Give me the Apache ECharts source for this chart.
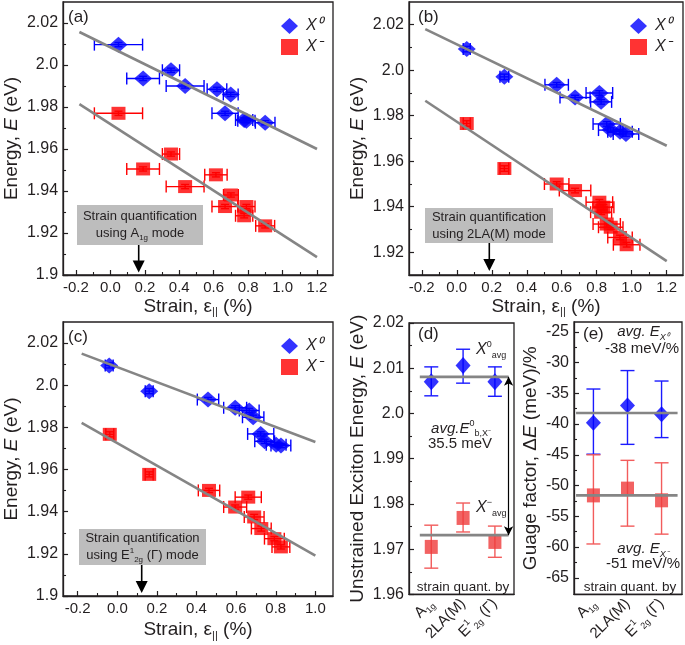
<!DOCTYPE html>
<html><head><meta charset="utf-8">
<script src="https://cdn.jsdelivr.net/npm/echarts@6/dist/echarts.min.js"></script>
<style>html,body{margin:0;padding:0;background:#fff}#c{width:685px;height:645px}</style>
</head><body><div id="c"></div>
<script>
// ---------------- DATA ----------------
// tick values
const strainTicksAB = [-0.2, 0, 0.2, 0.4, 0.6, 0.8, 1.0, 1.2];
const strainMinorAB = [-0.1, 0.1, 0.3, 0.5, 0.7, 0.9, 1.1];
const strainTicksC = [-0.2, 0, 0.2, 0.4, 0.6, 0.8, 1.0];
const strainMinorC = [-0.1, 0.1, 0.3, 0.5, 0.7, 0.9];
const energyTicksAC = [1.9, 1.92, 1.94, 1.96, 1.98, 2.0, 2.02];
const energyMinorAC = [1.91, 1.93, 1.95, 1.97, 1.99, 2.01];
const energyTicksB = [1.92, 1.94, 1.96, 1.98, 2.0, 2.02];
const energyMinorB = [1.93, 1.95, 1.97, 1.99, 2.01];
const unstrainedTicks = [1.96, 1.97, 1.98, 1.99, 2.0, 2.01, 2.02];
const unstrainedMinor = [1.965, 1.975, 1.985, 1.995, 2.005, 2.015];
const gaugeTicks = [-65, -60, -55, -50, -45, -40, -35, -30, -25];
const gaugeMinor = [-62.5, -57.5, -52.5, -47.5, -42.5, -37.5, -32.5, -27.5];
const methodPos = [1, 2, 3];
const methodLabels = ['A{sub|1g}', '2LA(M)', 'E{sup|1}{sub|2g} (Γ)'];

// panel (a): [strain %, energy eV, strain err, energy err]
const aX0 = [[0.047,2.0097,0.14,0.001],[0.19,1.9936,0.095,0.001],[0.352,1.9975,0.05,0.001],[0.434,1.990,0.11,0.001],
  [0.619,1.9884,0.057,0.001],[0.699,1.986,0.043,0.001],[0.666,1.977,0.076,0.001],[0.777,1.9738,0.05,0.001],
  [0.79,1.9735,0.05,0.001],[0.899,1.9725,0.057,0.001]];
const aXm = [[0.047,1.977,0.14,0.001],[0.352,1.9576,0.05,0.001],[0.19,1.9505,0.095,0.001],[0.613,1.9477,0.065,0.001],
  [0.434,1.9421,0.11,0.001],[0.70,1.9381,0.043,0.001],[0.666,1.9326,0.076,0.001],[0.79,1.9326,0.05,0.001],
  [0.777,1.9282,0.05,0.001],[0.899,1.9234,0.055,0.001]];
const aFitX0 = [[-0.18,2.0157],[1.2,1.960]];
const aFitXm = [[-0.18,1.9814],[1.2,1.9085]];

// panel (b)
const bX0 = [[0.057,2.0093,0.02,0.0012],[0.272,1.9971,0.025,0.0012],[0.571,1.9936,0.067,0.001],[0.676,1.988,0.086,0.001],
  [0.815,1.990,0.076,0.001],[0.825,1.9861,0.06,0.001],[0.857,1.9764,0.078,0.001],[0.88,1.9737,0.07,0.001],
  [0.933,1.973,0.07,0.001],[0.967,1.972,0.073,0.001]];
const bXm = [[0.057,1.9766,0.02,0.0012],[0.272,1.9568,0.025,0.0012],[0.571,1.950,0.07,0.001],[0.676,1.9471,0.09,0.001],
  [0.815,1.942,0.076,0.0012],[0.838,1.9398,0.06,0.0012],[0.825,1.9376,0.06,0.001],[0.857,1.9324,0.078,0.0015],
  [0.88,1.931,0.07,0.001],[0.933,1.9265,0.07,0.001],[0.971,1.9233,0.076,0.001]];
const bFitX0 = [[-0.18,2.0181],[1.2,1.9668]];
const bFitXm = [[-0.18,1.9866],[1.2,1.9161]];

// panel (c)
const cX0 = [[-0.041,2.0094,0.02,0.0012],[0.161,1.9972,0.02,0.0012],[0.458,1.9932,0.054,0.001],[0.595,1.9893,0.058,0.001],
  [0.666,1.988,0.05,0.001],[0.686,1.9848,0.054,0.001],[0.724,1.9769,0.066,0.001],[0.744,1.9734,0.05,0.001],
  [0.802,1.9718,0.05,0.001],[0.826,1.9714,0.05,0.001]];
const cXm = [[-0.038,1.9767,0.02,0.0012],[0.161,1.9577,0.02,0.0012],[0.463,1.9501,0.054,0.001],[0.661,1.9469,0.066,0.001],
  [0.595,1.9422,0.058,0.001],[0.691,1.9375,0.05,0.0012],[0.727,1.932,0.05,0.0012],[0.793,1.9272,0.05,0.001],
  [0.826,1.9233,0.045,0.001]];
const cFitX0 = [[-0.18,2.015],[1.0,1.9731]];
const cFitXm = [[-0.18,1.9821],[1.0,1.9191]];

// panel (d): unstrained exciton energies
const dX0 = [2.007, 2.0106, 2.007];
const dX0Lo = [2.0039, 2.0067, 2.0038];
const dX0Hi = [2.0103, 2.0142, 2.0103];
const dXm = [1.9705, 1.9769, 1.9716];
const dXmLo = [1.9658, 1.9738, 1.9682];
const dXmHi = [1.9753, 1.9802, 1.9751];
const dAvg = [2.0081, 1.9731];
const dAvgSpan = [0.64, 3.43];

// panel (e): gauge factors
const eX0 = [-39.8, -37.0, -38.4];
const eX0Lo = [-44.9, -43.3, -42.2];
const eX0Hi = [-34.3, -31.3, -33.0];
const eXm = [-51.6, -50.5, -52.4];
const eXmLo = [-59.5, -56.6, -57.9];
const eXmHi = [-45.0, -45.9, -46.3];
const eAvg = [-38.2, -51.6];
const eAvgSpan = [0.49, 3.47];

// ---------------- STYLE ----------------
const FONT = "'Liberation Sans', Arial, Helvetica, sans-serif";
const INK = '#231f20';
const BLUE = '#0000ff', RED = '#ff0000';
const GRAY = '#858585';

function fmtE(v) { const s = v.toFixed(2); return s.endsWith('0') ? v.toFixed(1) : s; }

function mainAxis(gi, pos, min, max, ticks, fmt, name, nameGap, fs, extraLabel) {
  return {
    type: 'value', gridIndex: gi, position: pos, min: min, max: max,
    axisLine: {show: true, onZero: false, lineStyle: {color: INK, width: 1.3}},
    axisTick: {show: true, inside: true, length: 5, customValues: ticks, lineStyle: {color: INK, width: 1.2}},
    axisLabel: Object.assign({show: true, customValues: ticks, formatter: fmt, color: INK, fontFamily: FONT,
      fontSize: fs, margin: 5}, extraLabel || {}),
    splitLine: {show: false},
    name: name, nameLocation: 'middle', nameGap: nameGap,
    nameTextStyle: {fontSize: 19, fontFamily: FONT, color: INK, lineHeight: 22,
      rich: {i: {fontStyle: 'italic', fontSize: 19, fontFamily: FONT, color: INK, lineHeight: 22},
             s: {fontSize: 11, fontFamily: FONT, color: INK, lineHeight: 22, verticalAlign: 'bottom'}}}
  };
}
function minorAxis(gi, pos, min, max, ticks) {
  return {
    type: 'value', gridIndex: gi, position: pos, min: min, max: max,
    axisLine: {show: false, onZero: false}, axisLabel: {show: false}, splitLine: {show: false},
    axisTick: {show: true, inside: true, length: 3, customValues: ticks, lineStyle: {color: INK, width: 1.1}}
  };
}
const strainName = 'Strain, ε{s|||} (%)';
const catLabel = {rotate: 45, fontSize: 15, margin: 7, lineHeight: 19,
  rich: {sub: {fontSize: 9, lineHeight: 19, verticalAlign: 'bottom', fontFamily: FONT, color: INK},
         sup: {fontSize: 9, lineHeight: 19, verticalAlign: 'top', fontFamily: FONT, color: INK}}};
function catFmt(v) { const i = methodPos.indexOf(Math.round(v)); return i >= 0 ? methodLabels[i] : ''; }

const xAxis = [
  mainAxis(0, 'bottom', -0.275, 1.293, strainTicksAB, v => v.toFixed(1), strainName, 19, 15),
  mainAxis(1, 'bottom', -0.273, 1.293, strainTicksAB, v => v.toFixed(1), strainName, 19, 15),
  mainAxis(2, 'bottom', -0.274, 1.089, strainTicksC, v => v.toFixed(1), strainName, 23, 15),
  mainAxis(3, 'bottom', 0.3, 3.6, methodPos, catFmt, '', 0, 15, catLabel),
  mainAxis(4, 'bottom', 0.43, 3.6, methodPos, catFmt, '', 0, 15, catLabel),
  minorAxis(0, 'bottom', -0.275, 1.293, strainMinorAB),
  minorAxis(1, 'bottom', -0.273, 1.293, strainMinorAB),
  minorAxis(2, 'bottom', -0.274, 1.089, strainMinorC)
];
xAxis[3].axisTick.show = false; xAxis[4].axisTick.show = false;
const yAxis = [
  mainAxis(0, 'left', 1.9, 2.03, energyTicksAC, fmtE, 'Energy, {i|E} (eV)', 40, 16),
  mainAxis(1, 'left', 1.91, 2.03, energyTicksB, fmtE, 'Energy, {i|E} (eV)', 40, 16),
  mainAxis(2, 'left', 1.9, 2.03, energyTicksAC, fmtE, 'Energy, {i|E} (eV)', 40, 16),
  mainAxis(3, 'left', 1.96, 2.02, unstrainedTicks, fmtE, 'Unstrained Exciton Energy, {i|E} (eV)', 40, 16),
  mainAxis(4, 'left', -67.7, -23.4, gaugeTicks, v => String(v), 'Guage factor, Δ{i|E} (meV)/%', 31, 16),
  minorAxis(0, 'left', 1.9, 2.03, energyMinorAC),
  minorAxis(1, 'left', 1.91, 2.03, energyMinorB),
  minorAxis(2, 'left', 1.9, 2.03, energyMinorAC),
  minorAxis(3, 'left', 1.96, 2.02, unstrainedMinor),
  minorAxis(4, 'left', -67.7, -23.4, gaugeMinor)
];

const grid = [
  {left: 58, top: 2, width: 275, height: 273},
  {left: 409, top: 2, width: 274, height: 273},
  {left: 58, top: 322, width: 275, height: 274},
  {left: 409, top: 323, width: 105, height: 273},
  {left: 574, top: 322, width: 108, height: 275}
].map(g => Object.assign(g, {show: true, borderColor: INK, borderWidth: 1.3, backgroundColor: 'transparent'}));

// --------------- error bar renderers ---------------
function xyErr(color, capH, capW) {
  return function (params, api) {
    const x = api.value(0), y = api.value(1), xe = api.value(2), ye = api.value(3);
    const l = api.coord([x - xe, y]), r = api.coord([x + xe, y]);
    const t = api.coord([x, y + ye]), b = api.coord([x, y - ye]);
    const st = {stroke: color, lineWidth: 1.4};
    const L = (x1, y1, x2, y2) => ({type: 'line', shape: {x1, y1, x2, y2}, style: st});
    return {type: 'group', children: [
      L(l[0], l[1], r[0], r[1]), L(l[0], l[1] - capH, l[0], l[1] + capH), L(r[0], r[1] - capH, r[0], r[1] + capH),
      L(t[0], t[1], b[0], b[1]), L(t[0] - capW, t[1], t[0] + capW, t[1]), L(b[0] - capW, b[1], b[0] + capW, b[1])
    ]};
  };
}
function vErr(color, capW) {
  return function (params, api) {
    const x = api.value(0), lo = api.value(1), hi = api.value(2);
    const t = api.coord([x, hi]), b = api.coord([x, lo]);
    const st = {stroke: color, lineWidth: 1.4};
    const L = (x1, y1, x2, y2) => ({type: 'line', shape: {x1, y1, x2, y2}, style: st});
    return {type: 'group', children: [
      L(t[0], t[1], b[0], b[1]), L(t[0] - capW, t[1], t[0] + capW, t[1]), L(b[0] - capW, b[1], b[0] + capW, b[1])
    ]};
  };
}

const series = [];
function strainPanel(gi, tag, x0, xm, fit0, fitm) {
  series.push({type: 'custom', xAxisIndex: gi, yAxisIndex: gi, renderItem: xyErr(BLUE, 6, 4), data: x0, z: 2, silent: true, encode: {x: 0, y: 1}});
  series.push({type: 'custom', xAxisIndex: gi, yAxisIndex: gi, renderItem: xyErr(RED, 6, 4), data: xm, z: 2, silent: true, encode: {x: 0, y: 1}});
  series.push({type: 'scatter', name: 'X⁰ ' + tag, xAxisIndex: gi, yAxisIndex: gi, data: x0.map(p => [p[0], p[1]]),
    symbol: 'diamond', symbolSize: [18, 16], itemStyle: {color: BLUE}, z: 3});
  series.push({type: 'scatter', name: 'X⁻ ' + tag, xAxisIndex: gi, yAxisIndex: gi, data: xm.map(p => [p[0], p[1]]),
    symbol: 'rect', symbolSize: [14, 13], itemStyle: {color: RED}, z: 3});
  [fit0, fitm].forEach(f => series.push({type: 'line', xAxisIndex: gi, yAxisIndex: gi, data: f, symbol: 'none',
    lineStyle: {color: GRAY, width: 2.6}, z: 4, silent: true}));
}
strainPanel(0, '(a)', aX0, aXm, aFitX0, aFitXm);
strainPanel(1, '(b)', bX0, bXm, bFitX0, bFitXm);
strainPanel(2, '(c)', cX0, cXm, cFitX0, cFitXm);

function avgPanel(gi, v0, lo0, hi0, vm, lom, him, avg, span, dsz, rsz, withArrow) {
  series.push({type: 'custom', xAxisIndex: gi, yAxisIndex: gi, renderItem: vErr('#1a1aff', 7), z: 2, silent: true,
    data: methodPos.map((p, i) => [p, lo0[i], hi0[i]]), encode: {x: 0, y: [1, 2]}});
  series.push({type: 'custom', xAxisIndex: gi, yAxisIndex: gi, renderItem: vErr('#f25c5c', 7), z: 2, silent: true,
    data: methodPos.map((p, i) => [p, lom[i], him[i]]), encode: {x: 0, y: [1, 2]}});
  series.push({type: 'scatter', xAxisIndex: gi, yAxisIndex: gi, data: methodPos.map((p, i) => [p, v0[i]]),
    symbol: 'diamond', symbolSize: dsz, itemStyle: {color: BLUE}, z: 3});
  series.push({type: 'scatter', xAxisIndex: gi, yAxisIndex: gi, data: methodPos.map((p, i) => [p, vm[i]]),
    symbol: 'rect', symbolSize: rsz, itemStyle: {color: '#ef3b3b'}, z: 3});
  avg.forEach((a, k) => {
    const s = {type: 'line', xAxisIndex: gi, yAxisIndex: gi, data: span.map(x => [x, a]), symbol: 'none',
      lineStyle: {color: GRAY, width: 2.6}, z: 4, silent: true};
    if (withArrow && k === 0) {
      s.markLine = {silent: true, symbol: ['arrow', 'arrow'], symbolSize: [7, 9], animation: false,
        lineStyle: {color: '#000', width: 1.2, type: 'solid'}, label: {show: false},
        data: [[{coord: [span[1], avg[0]]}, {coord: [span[1], avg[1]]}]]};
    }
    series.push(s);
  });
}
avgPanel(3, dX0, dX0Lo, dX0Hi, dXm, dXmLo, dXmHi, dAvg, dAvgSpan, [15, 17], [13, 14], true);
avgPanel(4, eX0, eX0Lo, eX0Hi, eXm, eXmLo, eXmHi, eAvg, eAvgSpan, [15, 16], [13, 14], false);

function legendAt(left, top, tag) {
  return {left: left, top: top, orient: 'vertical', itemWidth: 17, itemHeight: 16, itemGap: 5, selectedMode: false,
    data: [{name: 'X⁰ ' + tag, icon: 'diamond'}, {name: 'X⁻ ' + tag, icon: 'rect'}],
    formatter: n => n.split(' ')[0],
    textStyle: {fontStyle: 'italic', fontSize: 16, color: INK, fontFamily: FONT, padding: [0, 0, 0, 3]}};
}
const legend = [legendAt(276, 13, '(a)'), legendAt(625, 13, '(b)'), legendAt(276, 333, '(c)')];

// --------------- annotations ---------------
const G = [];
function txt(x, y, text, opts) {
  G.push({type: 'text', x: x, y: y, z: 10, silent: true, style: Object.assign({text: text, fill: INK, fontFamily: FONT,
    fontSize: 16, align: 'left', verticalAlign: 'middle'}, opts || {})});
}
const richT = (fs) => ({
  i: {fontStyle: 'italic', fontSize: fs, fontFamily: FONT, fill: INK, lineHeight: fs + 4, verticalAlign: 'middle'},
  sub: {fontSize: Math.round(fs * 0.58), fontFamily: FONT, fill: INK, lineHeight: fs + 4, verticalAlign: 'bottom'},
  subi: {fontSize: Math.round(fs * 0.62), fontStyle: 'italic', fontFamily: FONT, fill: INK, lineHeight: fs + 4, verticalAlign: 'bottom'},
  sup: {fontSize: Math.round(fs * 0.58), fontFamily: FONT, fill: INK, lineHeight: fs + 4, verticalAlign: 'top'},
  n: {fontSize: fs, fontFamily: FONT, fill: INK, lineHeight: fs + 4, verticalAlign: 'middle'}
});
function quantBox(x, y, w, h, line2, ax) {
  G.push({type: 'rect', z: 9, silent: true, shape: {x: x, y: y, width: w, height: h}, style: {fill: '#bdbdbd'}});
  G.push({type: 'text', z: 10, silent: true, x: x + w / 2, y: y + h / 2,
    style: {text: '{n|Strain quantification}\n{n|' + line2 + '}', align: 'center', verticalAlign: 'middle',
      fontFamily: FONT, fontSize: 13, fill: INK, lineHeight: 16, rich: richT(13)}});
  const top = y + h, tip = ax.tip;
  G.push({type: 'line', z: 10, silent: true, shape: {x1: ax.x, y1: top, x2: ax.x, y2: tip - 10}, style: {stroke: '#000', lineWidth: 1.6}});
  G.push({type: 'polygon', z: 10, silent: true, shape: {points: [[ax.x - 6, tip - 12], [ax.x + 6, tip - 12], [ax.x, tip]]}, style: {fill: '#000'}});
}
quantBox(77, 205, 126, 40, 'using A}{sub|1g}{n| mode', {x: 138.7, tip: 272.5});
quantBox(425, 208, 128, 35, 'using 2LA(M) mode', {x: 489.3, tip: 271});
quantBox(79, 529, 127, 36, 'using E}{sup|1}{sub|2g}{n| (Γ) mode', {x: 141.7, tip: 593});

txt(68, 17, '(a)', {fontSize: 17});
txt(418, 17, '(b)', {fontSize: 17});
txt(68, 337, '(c)', {fontSize: 17});
txt(418, 334, '(d)', {fontSize: 17});
txt(583, 334, '(e)', {fontSize: 17});

txt(476, 350, '{i|X}{sup|0}{sub|avg}', {rich: richT(16)});
txt(476, 508, '{i|X}{sup|−}{sub|avg}', {rich: richT(16)});
txt(461, 429, '{i|avg.E}{sup|0}{sub|b,X⁻}', {align: 'center', rich: richT(15)});
txt(460, 444, '35.5 meV', {align: 'center', fontSize: 15});
txt(463, 587, 'strain quant. by', {align: 'center', fontSize: 13.5});

txt(643, 332, '{i|avg. E}{subi|X⁰}', {align: 'center', rich: richT(15)});
txt(642, 349, '-38 meV/%', {align: 'center', fontSize: 15});
txt(643, 549, '{i|avg. E}{subi|X⁻}', {align: 'center', rich: richT(15)});
txt(643, 564, '-51 meV/%', {align: 'center', fontSize: 15});
txt(630, 587, 'strain quant. by', {align: 'center', fontSize: 13.5});

const chart = echarts.init(document.getElementById('c'), null, {renderer: 'canvas', width: 685, height: 645});
chart.setOption({
  animation: false,
  backgroundColor: '#ffffff',
  textStyle: {fontFamily: FONT},
  grid: grid, xAxis: xAxis, yAxis: yAxis, series: series, legend: legend, graphic: G
});
</script></body></html>
